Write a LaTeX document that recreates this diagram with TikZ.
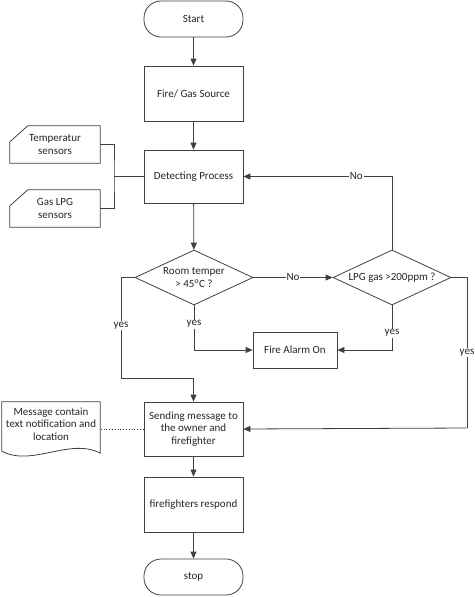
\documentclass[tikz,border=0pt]{standalone}
\usepackage{fontspec}
\setmainfont{Carlito}
\usetikzlibrary{arrows.meta,shapes.geometric}

\tikzset{
  line/.style={draw=black!75, line width=0.8pt},
  arrow/.style={line, -{Triangle[length=7pt,width=6pt]}},
  box/.style={line, rectangle, minimum width=99pt, minimum height=55pt, align=center},
  term/.style={box, minimum height=36pt, rounded corners=17pt},
  decision/.style={line, diamond, aspect=2.2, inner sep=0pt, minimum width=118pt, minimum height=55pt, align=center},
  sensor/.style={minimum width=90pt, minimum height=37pt, align=center},
  doc/.style={minimum width=98pt, minimum height=44pt, align=center, inner sep=1pt},
  lbl/.style={fill=white, inner sep=1pt},
}

\begin{document}
\begin{tikzpicture}[x=1pt, y=-1pt, font=\fontsize{11}{12.5}\selectfont, text=black!85]
\useasboundingbox (0,0) rectangle (474,597);

% Add main column.
    \node[term] (start) at (193.5,19) {Start};
    \node[box] (source) at (193.5,93.5) {Fire/ Gas Source};
    \node[box, minimum height=53pt] (detect) at (193.5,176.5) {Detecting Process};
    \node[decision] (room) at (194,277.5) {Room temper\\> 45\textsuperscript{o}C ?};
    \node[decision] (lpg) at (392,277.5) {LPG gas >200ppm ?};
    \node[box, minimum width=84pt, minimum height=36pt] (alarm) at (295,350) {Fire Alarm On};
    \node[box, minimum height=54pt] (send) at (193.5,429) {Sending message to\\the owner and\\firefighter};
    \node[box] (respond) at (193.5,504.5) {firefighters respond};
    \node[term] (stop) at (193.5,577) {stop};

% Add sensors on the left.
    \node[sensor] (temp) at (55,144.5) {Temperatur\\sensors};
    \node[sensor] (gas) at (55,208.5) {Gas LPG\\sensors};
    \foreach \s in {temp,gas}
      \draw[line] ([xshift=18pt]\s.north west) -- (\s.north east) -- (\s.south east)
        -- (\s.south west) -- ([yshift=-16pt]\s.north west) -- cycle;
    \coordinate (join) at (114,176.5);
    \draw[line] (temp.east) -| (join) |- (gas.east);
    \draw[line] (join) -- (detect.west);

% Add message note.
    \node[doc] (msg) at (51,424) {Message contain\\text notification and\\location};
    \draw[line] (msg.north west) -- (msg.north east) -- ([yshift=-7pt]msg.south east)
      .. controls +(-30,-16) and +(30,16) .. ([yshift=-5pt]msg.south west) -- cycle;
    \draw[line, dotted] (send.west) -- (send.west -| msg.east);

% Add connectors.
    \draw[arrow] (start) -- (source);
    \draw[arrow] (source) -- (detect);
    \draw[arrow] (detect) -- (room);
    \draw[arrow] (room.east) -- node[lbl] {No} (lpg.west);
    \draw[arrow] (lpg.north) |- node[lbl, pos=0.62] {No} (detect.east);
    \draw[arrow] (room.south) |- node[lbl, pos=0.21] {yes} (alarm.west);
    \draw[arrow] (lpg.south) |- node[lbl, pos=0.31] {yes} (alarm.east);
    \coordinate (left) at (121,378);
    \draw[line] (room.west) -| node[lbl, pos=0.74] {yes} (left);
    \draw[arrow] (left) -| (send.north);
    \coordinate (right) at (467,428);
    \draw[line] (lpg.east) -| node[lbl, pos=0.75] {yes} (right);
    \draw[arrow] (right) -- (send.east);
    \draw[arrow] (send) -- (respond);
    \draw[arrow] (respond) -- (stop);

\end{tikzpicture}
\end{document}
